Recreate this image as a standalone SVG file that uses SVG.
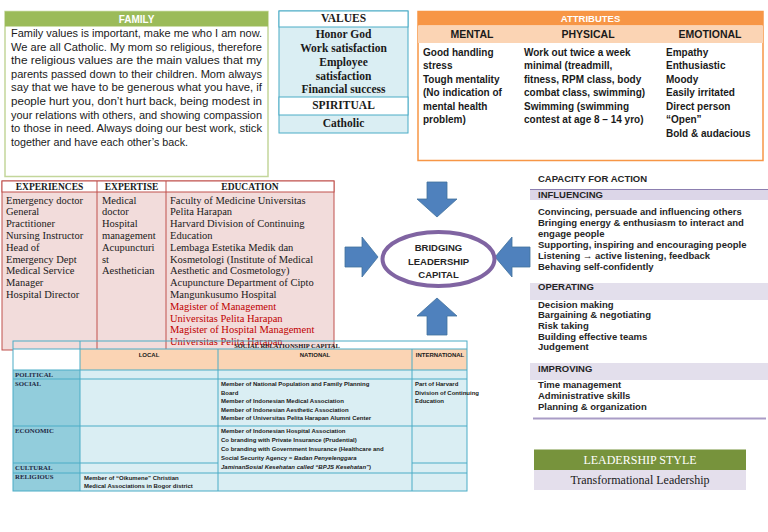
<svg xmlns="http://www.w3.org/2000/svg" width="768" height="532" viewBox="0 0 768 532">
<style>
.sans{font-family:"Liberation Sans",Arial,sans-serif}
.serif{font-family:"Liberation Serif","Times New Roman",serif}
.fam{font-size:10px;fill:#1a1a1a}
.val{font-size:11.5px;font-weight:bold;fill:#1a1a1a;text-anchor:middle}
.att{font-size:10px;font-weight:bold;fill:#1a1a1a}
.atth{font-size:10.5px;font-weight:bold;fill:#1a1a1a;text-anchor:middle}
.exp{font-size:10.5px;fill:#1a1a1a}
.red{fill:#c00000}
.exph{font-size:9.5px;font-weight:bold;fill:#1a1a1a;text-anchor:middle}
.cap{font-size:9.5px;font-weight:bold;fill:#262626}
.tl{font-size:6.8px;font-weight:bold;fill:#1f2a44}
.tc{font-size:6px;font-weight:bold;fill:#1a1a1a}
.th{font-size:6px;font-weight:bold;fill:#1a1a1a;text-anchor:middle}
.tline{stroke:#4bacc6;stroke-width:1;fill:none}
.arrow{fill:#4f81bd;stroke:#41719c;stroke-width:0.8}
</style>

<g id="family">
<rect x="5" y="11.5" width="263" height="165" fill="#fff" stroke="#c3d69b" stroke-width="1.5"/>
<rect x="5" y="11.5" width="263" height="15" fill="#9bbb59"/>
<text class="sans" x="136.5" y="22.5" font-size="10" font-weight="bold" fill="#fff" text-anchor="middle">FAMILY</text>
<text class="sans fam" x="11" y="37" textLength="251" lengthAdjust="spacingAndGlyphs">Family values is important, make me who I am now.</text>
<text class="sans fam" x="11" y="50.6" textLength="251" lengthAdjust="spacingAndGlyphs">We are all Catholic. My mom so religious, therefore</text>
<text class="sans fam" x="11" y="64.2" textLength="251" lengthAdjust="spacingAndGlyphs">the religious values are the main values that my</text>
<text class="sans fam" x="11" y="77.8" textLength="251" lengthAdjust="spacingAndGlyphs">parents passed down to their children. Mom always</text>
<text class="sans fam" x="11" y="91.4" textLength="251" lengthAdjust="spacingAndGlyphs">say that we have to be generous what you have, if</text>
<text class="sans fam" x="11" y="105" textLength="251" lengthAdjust="spacingAndGlyphs">people hurt you, don’t hurt back, being modest in</text>
<text class="sans fam" x="11" y="118.6" textLength="251" lengthAdjust="spacingAndGlyphs">your relations with others, and showing compassion</text>
<text class="sans fam" x="11" y="132.2" textLength="251" lengthAdjust="spacingAndGlyphs">to those in need. Always doing our best work, stick</text>
<text class="sans fam" x="11" y="145.8" textLength="177" lengthAdjust="spacingAndGlyphs">together and have each other’s back.</text>
</g>

<g id="values">
<rect x="279" y="11" width="129" height="122" fill="#daeef3" stroke="#4bacc6" stroke-width="1"/>
<rect x="279" y="11" width="129" height="16" fill="#fff" stroke="#4bacc6" stroke-width="1"/>
<rect x="279" y="97" width="129" height="18" fill="#fff" stroke="#4bacc6" stroke-width="1"/>
<text class="serif val" x="343.5" y="21.5">VALUES</text>
<text class="serif val" x="343.5" y="38">Honor God</text>
<text class="serif val" x="343.5" y="52">Work satisfaction</text>
<text class="serif val" x="343.5" y="66">Employee</text>
<text class="serif val" x="343.5" y="80">satisfaction</text>
<text class="serif val" x="343.5" y="93">Financial success</text>
<text class="serif val" x="343.5" y="109">SPIRITUAL</text>
<text class="serif val" x="343.5" y="126.5">Catholic</text>
</g>

<g id="attributes">
<rect x="418" y="11.5" width="345" height="149" fill="#fff" stroke="#f79646" stroke-width="1.5"/>
<rect x="418" y="11.5" width="345" height="14" fill="#f79646"/>
<rect x="418" y="25.5" width="345" height="17.5" fill="#fbd4b4"/>
<text class="sans" x="590.5" y="22" font-size="9.5" font-weight="bold" fill="#fff" text-anchor="middle">ATTRIBUTES</text>
<text class="sans atth" x="472" y="38">MENTAL</text>
<text class="sans atth" x="588" y="38">PHYSICAL</text>
<text class="sans atth" x="710" y="38">EMOTIONAL</text>
<g class="sans att">
<text x="423" y="55.5">Good handling</text>
<text x="423" y="69">stress</text>
<text x="423" y="82.5">Tough mentality</text>
<text x="423" y="96">(No indication of</text>
<text x="423" y="109.5">mental health</text>
<text x="423" y="123">problem)</text>
<text x="524" y="55.5">Work out twice a week</text>
<text x="524" y="69">minimal (treadmill,</text>
<text x="524" y="82.5">fitness, RPM class, body</text>
<text x="524" y="96">combat class, swimming)</text>
<text x="524" y="109.5">Swimming (swimming</text>
<text x="524" y="123">contest at age 8 – 14 yro)</text>
<text x="666" y="55.5">Empathy</text>
<text x="666" y="69">Enthusiastic</text>
<text x="666" y="82.5">Moody</text>
<text x="666" y="96">Easily irritated</text>
<text x="666" y="109.5">Direct person</text>
<text x="666" y="123">“Open”</text>
<text x="666" y="136.5">Bold &amp; audacious</text>
</g>
</g>

<g id="experience-table">
<rect x="2" y="181" width="332" height="169" fill="#f2dcdb" stroke="#c0504d" stroke-width="1"/>
<rect x="2" y="181" width="332" height="11" fill="#fff" stroke="#c0504d" stroke-width="1"/>
<line x1="97" y1="181" x2="97" y2="350" stroke="#c0504d" stroke-width="1"/>
<line x1="166" y1="181" x2="166" y2="350" stroke="#c0504d" stroke-width="1"/>
<text class="serif exph" x="49.5" y="190">EXPERIENCES</text>
<text class="serif exph" x="131.5" y="190">EXPERTISE</text>
<text class="serif exph" x="250" y="190">EDUCATION</text>
<g class="serif exp">
<text x="6" y="203.5">Emergency doctor</text>
<text x="6" y="215.3">General</text>
<text x="6" y="227.1">Practitioner</text>
<text x="6" y="238.9">Nursing Instructor</text>
<text x="6" y="250.7">Head of</text>
<text x="6" y="262.5">Emergency Dept</text>
<text x="6" y="274.3">Medical Service</text>
<text x="6" y="286.1">Manager</text>
<text x="6" y="297.9">Hospital Director</text>
<text x="102" y="203.5">Medical</text>
<text x="102" y="215.3">doctor</text>
<text x="102" y="227.1">Hospital</text>
<text x="102" y="238.9">management</text>
<text x="102" y="250.7">Acupuncturi</text>
<text x="102" y="262.5">st</text>
<text x="102" y="274.3">Aesthetician</text>
<text x="170" y="203.5">Faculty of Medicine Universitas</text>
<text x="170" y="215.3">Pelita Harapan</text>
<text x="170" y="227.1">Harvard Division of Continuing</text>
<text x="170" y="238.9">Education</text>
<text x="170" y="250.7">Lembaga Estetika Medik dan</text>
<text x="170" y="262.5">Kosmetologi (Institute of Medical</text>
<text x="170" y="274.3">Aesthetic and Cosmetology)</text>
<text x="170" y="286.1">Acupuncture Department of Cipto</text>
<text x="170" y="297.9">Mangunkusumo Hospital</text>
<text class="red" x="170" y="309.7">Magister of Management</text>
<text class="red" x="170" y="321.5">Universitas Pelita Harapan</text>
<text class="red" x="170" y="333.3">Magister of Hospital Management</text>
<text class="red" x="170" y="345.1">Universitas Pelita Harapan</text>
</g>
</g>

<g id="social-table">
<rect x="13" y="349" width="67" height="21" fill="#fff"/>
<rect x="80" y="349" width="387" height="21" fill="#fbd4b4"/>
<rect x="13" y="370" width="67" height="121" fill="#92cddc"/>
<rect x="80" y="370" width="387" height="121" fill="#daeef3"/>
<g class="tline">
<rect x="13" y="341" width="454" height="150"/>
<line x1="13" y1="349" x2="467" y2="349"/>
<line x1="13" y1="370" x2="467" y2="370"/>
<line x1="13" y1="379" x2="467" y2="379"/>
<line x1="13" y1="426" x2="467" y2="426"/>
<line x1="13" y1="463" x2="218" y2="463"/>
<line x1="412" y1="463" x2="467" y2="463"/>
<line x1="13" y1="473" x2="467" y2="473"/>
<line x1="80" y1="341" x2="80" y2="491"/>
<line x1="218" y1="349" x2="218" y2="491"/>
<line x1="412" y1="349" x2="412" y2="491"/>
</g>
<text class="serif" x="287" y="347.5" font-size="6.5" font-weight="bold" fill="#1a1a1a" text-anchor="middle">SOCIAL RELATIONSHIP CAPITAL</text>
<text class="sans th" x="149" y="357">LOCAL</text>
<text class="sans th" x="315" y="357">NATIONAL</text>
<text class="sans th" x="440" y="357">INTERNATIONAL</text>
<g class="serif tl">
<text x="15" y="377">POLITICAL</text>
<text x="15" y="386">SOCIAL</text>
<text x="15" y="433">ECONOMIC</text>
<text x="15" y="470">CULTURAL</text>
<text x="15" y="479">RELIGIOUS</text>
</g>
<g class="sans tc">
<text x="221" y="386">Member of National Population and Family Planning</text>
<text x="221" y="394.5">Board</text>
<text x="221" y="403">Member of Indonesian Medical Association</text>
<text x="221" y="411.5">Member of Indonesian Aesthetic Association</text>
<text x="221" y="420">Member of Universitas Pelita Harapan Alumni Center</text>
<text x="415" y="386">Part of Harvard</text>
<text x="415" y="394.5">Division of Continuing</text>
<text x="415" y="403">Education</text>
<text x="221" y="433">Member of Indonesian Hospital Association</text>
<text x="221" y="442">Co branding with Private Insurance (Prudential)</text>
<text x="221" y="451">Co branding with Government Insurance (Healthcare and</text>
<text x="221" y="459.5">Social Security Agency = <tspan font-style="italic">Badan Penyelenggara</tspan></text>
<text x="221" y="468.5"><tspan font-style="italic">JaminanSosial Kesehatan called “BPJS Kesehatan”</tspan>)</text>
<text x="84" y="479.5">Member of “Oikumene” Christian</text>
<text x="84" y="488">Medical Associations in Bogor district</text>
</g>
</g>

<g id="connectors">
<path class="arrow" d="M427,182 H447 V199 H457 L437,217 L417,199 H427 Z"/>
<path class="arrow" d="M427,335 H447 V316 H457 L437,298 L417,316 H427 Z"/>
<path class="arrow" d="M345,247 H362 V237 L378,257 L362,277 V267 H345 Z"/>
<path class="arrow" d="M530,247 H512 V237 L495,257 L512,277 V267 H530 Z"/>
</g>

<g id="bridging">
<ellipse cx="438.5" cy="259" rx="56" ry="27" fill="#fff" stroke="#8064a2" stroke-width="4"/>
<text class="sans" x="438.5" y="251" font-size="9.5" font-weight="bold" fill="#262626" text-anchor="middle">BRIDGING</text>
<text class="sans" x="438.5" y="264.5" font-size="9.5" font-weight="bold" fill="#262626" text-anchor="middle">LEADERSHIP</text>
<text class="sans" x="438.5" y="278" font-size="9.5" font-weight="bold" fill="#262626" text-anchor="middle">CAPITAL</text>
</g>

<g id="capacity">
<text class="sans cap" x="538" y="181.5">CAPACITY FOR ACTION</text>
<rect x="530" y="189" width="238" height="11" fill="#dcd6e8"/>
<line x1="530" y1="189.5" x2="768" y2="189.5" stroke="#8c7fb0" stroke-width="1.2"/>
<text class="sans cap" x="538" y="198">INFLUENCING</text>
<text class="sans cap" x="538" y="215">Convincing, persuade and influencing others</text>
<text class="sans cap" x="538" y="226">Bringing energy &amp; enthusiasm to interact and</text>
<text class="sans cap" x="538" y="236.5">engage people</text>
<text class="sans cap" x="538" y="247.5">Supporting, inspiring and encouraging people</text>
<text class="sans cap" x="538" y="258.5">Listening → active listening, feedback</text>
<text class="sans cap" x="538" y="269.5">Behaving self-confidently</text>
<rect x="530" y="283" width="238" height="17" fill="#e3dfec"/>
<text class="sans cap" x="538" y="290">OPERATING</text>
<text class="sans cap" x="538" y="307.5">Decision making</text>
<text class="sans cap" x="538" y="318.2">Bargaining &amp; negotiating</text>
<text class="sans cap" x="538" y="328.9">Risk taking</text>
<text class="sans cap" x="538" y="339.6">Building effective teams</text>
<text class="sans cap" x="538" y="350.3">Judgement</text>
<rect x="530" y="363" width="238" height="17" fill="#e3dfec"/>
<text class="sans cap" x="538" y="371.5">IMPROVING</text>
<text class="sans cap" x="538" y="388.3">Time management</text>
<text class="sans cap" x="538" y="399">Administrative skills</text>
<text class="sans cap" x="538" y="409.5">Planning &amp; organization</text>
<line x1="533" y1="418.5" x2="766" y2="418.5" stroke="#a99cc6" stroke-width="2"/>
</g>

<g id="leadership-style">
<rect x="534" y="449.5" width="212" height="20.5" fill="#77933c"/>
<rect x="534" y="470" width="212" height="20" fill="#e4dfec"/>
<text class="serif" x="640" y="464" font-size="12" fill="#fff" text-anchor="middle">LEADERSHIP STYLE</text>
<text class="serif" x="640" y="483.5" font-size="12" fill="#1a1a1a" text-anchor="middle">Transformational Leadership</text>
</g>
</svg>
